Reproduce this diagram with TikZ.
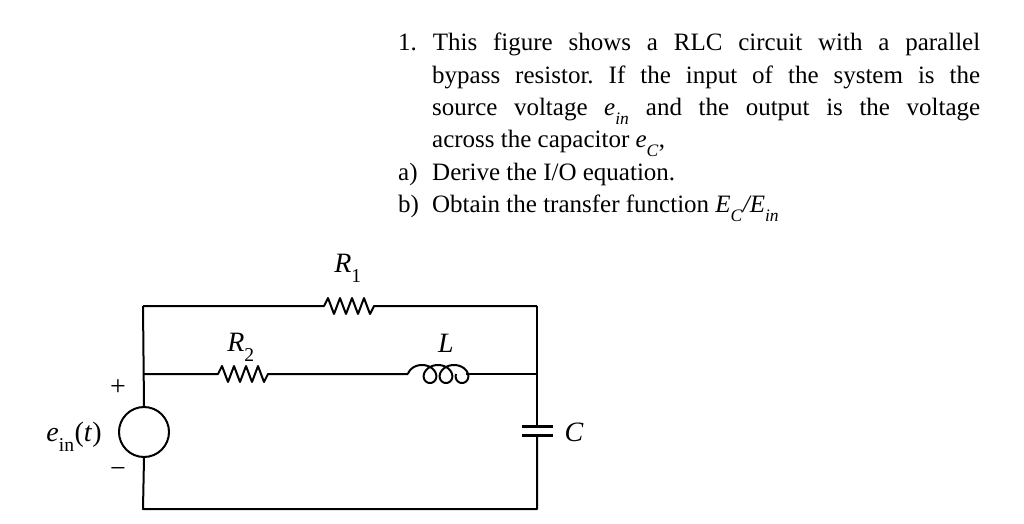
\documentclass[tikz,border=0pt]{standalone}
\usepackage{fontspec}
\setmainfont{Liberation Serif}
\frenchspacing
\newcommand{\lsub}[1]{\raisebox{-0.45ex}{\textsubscript{#1}}}
\begin{document}
\begin{tikzpicture}[x=1pt,y=-1pt,wire/.style={line width=2pt,line join=round},
 lbl/.style={font=\fontsize{28}{30}\selectfont,inner sep=0pt}]
\useasboundingbox (0,0) rectangle (1024,524);
\node[anchor=north west,inner sep=0pt] (txt) at (398,33) {\parbox{582pt}{\fontsize{25}{32.3}\selectfont
\hangindent=34pt\hangafter=1 1.~This figure shows a RLC circuit with a parallel\linebreak
bypass resistor. If the input of the system is the\linebreak
source voltage \textit{e\lsub{in}} and the output is the voltage\linebreak
across the capacitor \textit{e\lsub{C}},\par
\noindent\hbox to 34pt{a)\hfil}Derive the I/O equation.\par
\noindent\hbox to 34pt{b)\hfil}Obtain the transfer function \textit{E\lsub{C}/E\lsub{in}}}};
\coordinate (tl) at (143,306); \coordinate (tr) at (537,306);
\coordinate (ml) at (143,374); \coordinate (mr) at (537,374);
\coordinate (bl) at (143,509); \coordinate (br) at (537,509);
\node[draw,circle,line width=2pt,minimum size=50pt,inner sep=0pt] (src) at (144,432) {};
% R1
\draw[wire] (tl) -- (324,306) -- (328,298) -- (334,314) -- (340,298) -- (346,314) -- (352,298) -- (358,314) -- (364,298) -- (370,314) -- (374,306) -- (tr);
% R2 and L
\draw[wire] (ml) -- (218,374) -- (222,366) -- (228,382) -- (234,366) -- (240,382) -- (246,366) -- (252,382) -- (258,366) -- (264,382) -- (268,374) -- (408,374);
\draw[wire,domain=0:1080,samples=200,variable=\t] plot ({418+\t/360*16-10*cos(\t)},{374-9*sin(\t)});
\draw[wire] (466,374) -- (mr);
\coordinate (cap1) at (537,426); \coordinate (cap2) at (537,435);
\draw[wire] (tr) -- (cap1); \draw[wire] (cap2) -- (br) -- (bl) -- (src.south);
\draw[wire] (tl) -- (src.north);
\draw[line width=3pt] (522,426) -- (553,426); \draw[line width=3pt] (522,435) -- (553,435);
\node[lbl] (r1) at (348,268) {\textit{R}\lsub{1}};
\node[lbl] (r2) at (241,347) {\textit{R}\lsub{2}};
\node[lbl] (ll) at (446,343) {\textit{L}};
\node[lbl] (cl) at (574,432) {\textit{C}};
\node[lbl] (pl) at (118,388) {+};
\node[lbl] (mn) at (118,472) {\textminus};
\node[lbl] (ein) at (74,437) {\textit{e}\lsub{in}(\textit{t})};
\end{tikzpicture}
\end{document}
